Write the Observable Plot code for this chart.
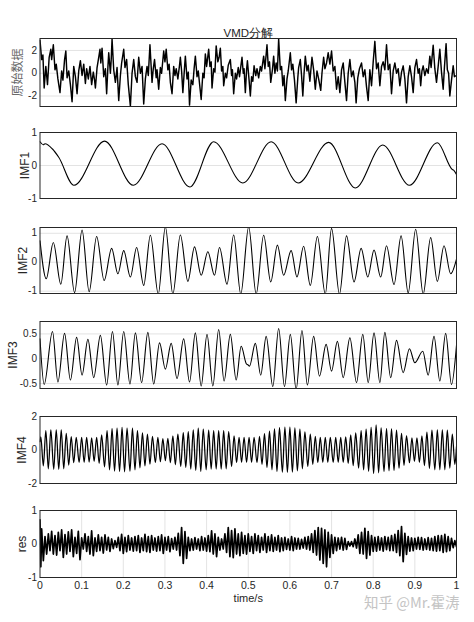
<!DOCTYPE html>
<html><head><meta charset="utf-8">
<script src="https://cdn.jsdelivr.net/npm/d3@7"></script>
<script src="https://cdn.jsdelivr.net/npm/@observablehq/plot@0.6"></script>
<style>
body{margin:0;background:#fff;}
#c{position:relative;width:474px;height:622px;overflow:hidden;font-family:"Liberation Sans",Arial,sans-serif;}
#c svg{position:absolute;left:0;}
#wm{position:absolute;left:364px;top:591px;font-size:14.5px;color:#c4c4c4;font-family:"Noto Sans CJK SC","Liberation Sans",sans-serif;white-space:nowrap;}
</style></head>
<body><div id="c"><div id="wm">知乎 @Mr.霍涛</div></div>
<script>
// ---- data (time in s, value) ----
const title = "VMD分解";
const panelLabels = ["原始数据", "IMF1", "IMF2", "IMF3", "IMF4", "res"];
const xTicks = [0, 0.1, 0.2, 0.3, 0.4, 0.5, 0.6, 0.7, 0.8, 0.9, 1];
const xLabel = "time/s";

const original = [[0,2.9],[0.004,1.2],[0.007,1.6],[0.010,-1.3],[0.014,0.6],[0.018,-1.0],[0.022,1.4],[0.026,2.1],[0.028,1.2],[0.032,2.5],[0.036,0.3],[0.039,0.8],[0.043,-0.5],[0.048,-1.7],[0.052,0.2],[0.055,-0.6],[0.059,1.2],[0.062,1.95],[0.065,-0.4],[0.069,0.2],[0.073,-1.0],[0.077,-2.5],[0.081,0.6],[0.085,-0.3],[0.089,-1.8],[0.093,0.2],[0.097,1.1],[0.101,-0.2],[0.105,0.8],[0.109,-0.9],[0.112,0.4],[0.116,-0.5],[0.120,0.6],[0.124,-1.0],[0.128,0.1],[0.131,-0.6],[0.133,-1.3],[0.137,0.5],[0.141,1.4],[0.144,2.1],[0.146,0.9],[0.149,2.2],[0.153,-0.3],[0.157,0.4],[0.160,-1.8],[0.163,0.5],[0.165,1.8],[0.169,0.0],[0.171,1.2],[0.173,3.0],[0.177,0.3],[0.181,-0.8],[0.185,0.5],[0.189,-2.4],[0.193,-0.2],[0.196,0.9],[0.201,2.1],[0.204,0.5],[0.208,1.2],[0.212,-1.0],[0.217,-2.9],[0.221,0.0],[0.225,1.2],[0.229,-0.3],[0.233,-0.8],[0.237,1.4],[0.241,0.0],[0.245,0.6],[0.249,-2.7],[0.253,-0.5],[0.257,0.6],[0.260,-0.2],[0.264,2.5],[0.267,0.5],[0.269,-0.8],[0.272,0.4],[0.275,1.2],[0.279,-0.4],[0.281,0.3],[0.285,-1.4],[0.289,0.5],[0.292,0.0],[0.297,1.95],[0.300,1.0],[0.303,2.1],[0.307,0.3],[0.310,0.8],[0.313,-0.8],[0.317,-1.8],[0.321,0.6],[0.324,-0.2],[0.327,0.4],[0.331,-0.5],[0.335,0.7],[0.337,1.4],[0.340,0.2],[0.343,-1.7],[0.347,0.5],[0.349,1.5],[0.353,-0.5],[0.356,0.1],[0.359,-2.8],[0.363,-0.6],[0.367,-1.0],[0.370,0.4],[0.373,1.5],[0.377,-0.3],[0.380,0.2],[0.383,-0.9],[0.387,-2.3],[0.391,0.0],[0.394,-0.4],[0.397,1.7],[0.400,0.6],[0.405,2.1],[0.408,0.6],[0.411,1.0],[0.413,-1.3],[0.417,0.4],[0.420,0.1],[0.423,2.4],[0.427,1.0],[0.430,1.4],[0.433,2.2],[0.436,0.2],[0.439,0.6],[0.441,-1.1],[0.445,0.0],[0.448,-0.4],[0.452,0.7],[0.457,1.2],[0.460,-0.2],[0.462,0.3],[0.465,-1.8],[0.469,0.0],[0.472,-0.5],[0.476,0.5],[0.479,-0.3],[0.485,1.4],[0.488,0.0],[0.490,0.4],[0.493,-1.7],[0.496,0.3],[0.498,1.1],[0.502,-0.6],[0.505,-2.0],[0.508,-0.3],[0.511,-0.7],[0.514,0.65],[0.518,-0.2],[0.521,0.4],[0.525,-0.4],[0.529,0.6],[0.532,0.2],[0.537,1.5],[0.540,0.4],[0.545,2.5],[0.548,0.6],[0.551,1.0],[0.554,-0.8],[0.558,0.3],[0.561,1.5],[0.564,0.0],[0.567,0.9],[0.570,0.2],[0.573,3.0],[0.577,0.3],[0.580,0.6],[0.583,-1.1],[0.586,-0.2],[0.589,-2.4],[0.593,-0.5],[0.596,0.2],[0.601,1.8],[0.604,0.3],[0.607,0.8],[0.611,-0.6],[0.615,-2.6],[0.619,-0.4],[0.621,0.5],[0.625,1.2],[0.628,-0.2],[0.631,-2.0],[0.634,0.0],[0.637,1.5],[0.641,0.2],[0.644,0.7],[0.648,-0.7],[0.653,1.4],[0.657,0.3],[0.661,-1.4],[0.665,0.2],[0.669,-0.5],[0.674,-1.5],[0.677,0.0],[0.681,1.4],[0.684,0.4],[0.688,0.9],[0.692,1.8],[0.696,0.8],[0.700,1.95],[0.704,0.2],[0.708,0.6],[0.712,-1.4],[0.716,-0.3],[0.720,-1.7],[0.724,0.3],[0.728,0.9],[0.732,-0.8],[0.736,-2.4],[0.740,0.0],[0.744,1.2],[0.748,-0.3],[0.752,0.2],[0.756,-0.8],[0.759,-2.6],[0.763,-0.4],[0.767,0.4],[0.772,0.9],[0.776,-0.3],[0.780,0.3],[0.784,-1.2],[0.788,-2.4],[0.792,0.3],[0.796,-1.1],[0.800,1.0],[0.804,2.8],[0.808,0.4],[0.812,0.9],[0.816,-1.1],[0.820,0.6],[0.824,1.0],[0.828,0.3],[0.832,2.5],[0.836,0.3],[0.840,0.8],[0.844,-1.8],[0.848,0.2],[0.852,0.9],[0.856,0.0],[0.860,0.4],[0.864,-1.1],[0.868,0.1],[0.872,0.65],[0.876,-0.5],[0.880,-2.6],[0.884,-0.3],[0.888,0.65],[0.892,-0.3],[0.896,-1.7],[0.900,0.5],[0.904,1.2],[0.908,0.0],[0.911,0.4],[0.914,-1.1],[0.917,0.2],[0.920,0.65],[0.924,-0.2],[0.928,0.4],[0.932,0.0],[0.936,1.5],[0.939,0.5],[0.944,2.45],[0.948,0.4],[0.952,-0.8],[0.956,0.6],[0.960,2.1],[0.964,0.1],[0.968,-1.4],[0.971,0.5],[0.975,2.6],[0.978,0.3],[0.981,0.0],[0.984,-2.0],[0.988,-0.6],[0.992,0.65],[0.995,-0.3],[1.0,-0.2]];

const imf1 = [[0,0.72],[0.008,0.63],[0.012,0.66],[0.03,0.5],[0.045,0.25],[0.0815,-0.6],[0.155,0.74],[0.224,-0.6],[0.293,0.66],[0.36,-0.65],[0.417,0.72],[0.487,-0.53],[0.555,0.72],[0.62,-0.53],[0.693,0.70],[0.757,-0.68],[0.823,0.62],[0.887,-0.6],[0.954,0.69],[0.99,-0.12],[0.993,-0.14],[1.0,-0.27]];

const imf2 = [[0,0.74],[0.015,-0.57],[0.032,0.68],[0.050,-0.76],[0.065,0.91],[0.083,-1.05],[0.101,1.11],[0.118,-1.02],[0.136,0.89],[0.154,-0.63],[0.172,0.48],[0.187,-0.40],[0.201,0.40],[0.217,-0.51],[0.232,0.51],[0.249,-0.80],[0.265,0.93],[0.284,-1.1],[0.301,1.22],[0.319,-1.1],[0.337,0.94],[0.355,-0.66],[0.371,0.53],[0.387,-0.45],[0.403,0.36],[0.419,-0.45],[0.431,0.51],[0.449,-0.76],[0.465,0.94],[0.482,-1.1],[0.501,1.22],[0.519,-1.1],[0.537,0.93],[0.554,-0.68],[0.570,0.59],[0.585,-0.45],[0.603,0.40],[0.617,-0.51],[0.633,0.55],[0.649,-0.80],[0.666,0.89],[0.685,-1.1],[0.700,1.17],[0.719,-1.1],[0.736,0.91],[0.754,-0.68],[0.771,0.48],[0.787,-0.51],[0.802,0.42],[0.818,-0.51],[0.832,0.57],[0.850,-0.77],[0.867,0.91],[0.884,-1.06],[0.902,1.14],[0.920,-1.1],[0.938,0.85],[0.954,-0.66],[0.970,0.57],[0.986,-0.40],[1.0,0.11]];

const imf3 = [[0,0.40],[0.010,-0.52],[0.030,0.55],[0.043,-0.47],[0.059,0.51],[0.073,-0.43],[0.088,0.43],[0.101,-0.33],[0.115,0.39],[0.129,-0.38],[0.145,0.47],[0.160,-0.53],[0.174,0.55],[0.187,-0.53],[0.201,0.55],[0.216,-0.51],[0.229,0.52],[0.244,-0.48],[0.259,0.53],[0.273,-0.51],[0.287,0.32],[0.301,-0.21],[0.315,0.31],[0.329,-0.40],[0.345,0.40],[0.359,-0.47],[0.373,0.52],[0.387,-0.55],[0.401,0.49],[0.415,-0.55],[0.429,0.59],[0.442,-0.45],[0.457,0.49],[0.471,-0.43],[0.483,0.25],[0.496,-0.11],[0.499,-0.12],[0.503,-0.15],[0.517,0.31],[0.530,-0.33],[0.543,0.45],[0.559,-0.56],[0.573,0.61],[0.587,-0.56],[0.601,0.49],[0.615,-0.62],[0.629,0.57],[0.642,-0.53],[0.657,0.45],[0.671,-0.35],[0.687,0.29],[0.700,-0.25],[0.714,0.35],[0.728,-0.38],[0.744,0.42],[0.760,-0.48],[0.775,0.49],[0.788,-0.48],[0.802,0.52],[0.816,-0.48],[0.828,0.53],[0.842,-0.38],[0.856,0.37],[0.872,-0.28],[0.887,0.20],[0.900,-0.08],[0.919,0.15],[0.932,-0.33],[0.946,0.45],[0.960,-0.45],[0.974,0.51],[0.988,-0.52],[1.0,0.27]];

const imf4 = [[0,0.5],[0.002,0.78],[0.008,-0.95],[0.014,1.16],[0.020,-1.12],[0.026,1.2],[0.033,-1.15],[0.039,1.2],[0.045,-1.15],[0.051,1.2],[0.057,-1.12],[0.063,1.0],[0.069,-0.9],[0.075,0.8],[0.081,-0.76],[0.087,0.76],[0.094,-0.74],[0.100,0.76],[0.106,-0.74],[0.112,0.76],[0.118,-0.72],[0.124,0.72],[0.130,-0.68],[0.136,0.76],[0.142,-0.8],[0.148,0.9],[0.155,-1.0],[0.161,1.16],[0.167,-1.18],[0.173,1.28],[0.179,-1.26],[0.185,1.3],[0.191,-1.28],[0.197,1.35],[0.203,-1.3],[0.209,1.3],[0.216,-1.26],[0.222,1.3],[0.228,-1.18],[0.234,1.16],[0.240,-1.06],[0.246,1.02],[0.252,-0.95],[0.258,0.95],[0.264,-0.85],[0.270,0.82],[0.277,-0.76],[0.283,0.76],[0.289,-0.7],[0.295,0.68],[0.301,-0.64],[0.307,0.7],[0.313,-0.76],[0.319,0.85],[0.325,-0.88],[0.331,0.95],[0.338,-0.98],[0.344,1.03],[0.350,-1.04],[0.356,1.1],[0.362,-1.14],[0.368,1.2],[0.374,-1.22],[0.380,1.3],[0.386,-1.28],[0.392,1.25],[0.399,-1.18],[0.405,1.18],[0.411,-1.14],[0.417,1.16],[0.423,-1.14],[0.429,1.16],[0.435,-1.14],[0.441,1.15],[0.447,-1.12],[0.453,1.1],[0.460,-0.98],[0.466,0.85],[0.472,-0.76],[0.478,0.76],[0.484,-0.74],[0.490,0.76],[0.496,-0.74],[0.502,0.76],[0.508,-0.74],[0.514,0.76],[0.521,-0.76],[0.527,0.82],[0.533,-0.86],[0.539,0.98],[0.545,-1.04],[0.551,1.12],[0.557,-1.18],[0.563,1.26],[0.569,-1.28],[0.575,1.33],[0.582,-1.32],[0.588,1.36],[0.594,-1.33],[0.600,1.36],[0.606,-1.32],[0.612,1.32],[0.618,-1.25],[0.624,1.24],[0.630,-1.12],[0.636,1.08],[0.643,-0.98],[0.649,0.95],[0.655,-0.86],[0.661,0.82],[0.667,-0.76],[0.673,0.76],[0.679,-0.74],[0.685,0.76],[0.691,-0.74],[0.697,0.76],[0.704,-0.74],[0.710,0.76],[0.716,-0.74],[0.722,0.76],[0.728,-0.74],[0.734,0.78],[0.740,-0.8],[0.746,0.9],[0.752,-0.94],[0.758,1.02],[0.765,-1.08],[0.771,1.16],[0.777,-1.18],[0.783,1.25],[0.789,-1.27],[0.795,1.35],[0.801,-1.4],[0.807,1.5],[0.813,-1.36],[0.819,1.32],[0.826,-1.28],[0.832,1.28],[0.838,-1.24],[0.844,1.26],[0.850,-1.22],[0.856,1.18],[0.862,-1.08],[0.868,1.0],[0.874,-0.92],[0.880,0.86],[0.887,-0.76],[0.893,0.72],[0.899,-0.68],[0.905,0.72],[0.911,-0.74],[0.917,0.85],[0.923,-0.93],[0.929,1.06],[0.935,-1.1],[0.941,1.18],[0.948,-1.18],[0.954,1.2],[0.960,-1.18],[0.966,1.2],[0.972,-1.18],[0.978,1.18],[0.984,-1.08],[0.990,0.95],[0.996,-0.86],[1.0,0.2]];

const res = [[0,0.72],[0.002,-0.68],[0.004,0.45],[0.008,-0.5],[0.012,0.22],[0.016,-0.3],[0.020,0.3],[0.024,-0.2],[0.028,0.38],[0.032,-0.3],[0.036,0.25],[0.040,-0.33],[0.044,0.35],[0.048,-0.2],[0.052,0.42],[0.056,-0.4],[0.060,0.28],[0.064,-0.3],[0.068,0.36],[0.072,-0.22],[0.076,0.42],[0.080,-0.38],[0.084,0.2],[0.088,-0.28],[0.092,0.38],[0.096,-0.47],[0.100,0.18],[0.104,-0.15],[0.108,0.3],[0.112,-0.22],[0.116,0.22],[0.120,-0.3],[0.124,0.39],[0.128,-0.35],[0.132,0.18],[0.136,-0.22],[0.140,0.27],[0.144,-0.2],[0.148,0.2],[0.152,-0.27],[0.156,0.27],[0.160,-0.18],[0.164,0.2],[0.168,-0.22],[0.172,0.15],[0.176,-0.14],[0.180,0.1],[0.184,-0.1],[0.188,0.2],[0.192,-0.2],[0.196,0.29],[0.200,-0.28],[0.204,0.2],[0.208,-0.23],[0.212,0.25],[0.216,-0.18],[0.220,0.18],[0.224,-0.21],[0.228,0.22],[0.232,-0.2],[0.236,0.25],[0.240,-0.25],[0.244,0.18],[0.248,-0.2],[0.252,0.29],[0.256,-0.23],[0.260,0.22],[0.264,-0.25],[0.268,0.25],[0.272,-0.18],[0.276,0.18],[0.280,-0.21],[0.284,0.22],[0.288,-0.2],[0.292,0.27],[0.296,-0.28],[0.300,0.2],[0.304,-0.18],[0.308,0.22],[0.312,-0.23],[0.316,0.16],[0.320,-0.15],[0.324,0.2],[0.328,-0.18],[0.332,0.32],[0.336,-0.35],[0.340,0.49],[0.344,-0.58],[0.348,0.37],[0.352,-0.43],[0.356,0.2],[0.360,-0.2],[0.364,0.15],[0.368,-0.18],[0.372,0.19],[0.376,-0.15],[0.380,0.15],[0.384,-0.2],[0.388,0.22],[0.392,-0.18],[0.396,0.18],[0.400,-0.21],[0.404,0.25],[0.408,-0.23],[0.412,0.39],[0.416,-0.3],[0.420,0.3],[0.424,-0.38],[0.428,0.2],[0.432,-0.18],[0.436,0.15],[0.440,-0.15],[0.444,0.3],[0.448,-0.25],[0.452,0.49],[0.456,-0.38],[0.460,0.4],[0.464,-0.41],[0.468,0.45],[0.472,-0.3],[0.476,0.3],[0.480,-0.35],[0.484,0.35],[0.488,-0.28],[0.492,0.25],[0.496,-0.3],[0.500,0.3],[0.504,-0.22],[0.508,0.22],[0.512,-0.28],[0.516,0.3],[0.520,-0.2],[0.524,0.25],[0.528,-0.25],[0.532,0.2],[0.536,-0.18],[0.540,0.3],[0.544,-0.25],[0.548,0.22],[0.552,-0.2],[0.556,0.27],[0.560,-0.22],[0.564,0.2],[0.568,-0.18],[0.572,0.25],[0.576,-0.23],[0.580,0.18],[0.584,-0.2],[0.588,0.2],[0.592,-0.16],[0.596,0.15],[0.600,-0.18],[0.604,0.22],[0.608,-0.2],[0.612,0.18],[0.616,-0.15],[0.620,0.17],[0.624,-0.15],[0.628,0.14],[0.632,-0.12],[0.636,0.2],[0.640,-0.15],[0.644,0.22],[0.648,-0.18],[0.652,0.3],[0.656,-0.25],[0.660,0.4],[0.664,-0.33],[0.668,0.49],[0.672,-0.48],[0.676,0.47],[0.680,-0.58],[0.684,0.42],[0.688,-0.68],[0.692,0.35],[0.696,-0.4],[0.700,0.27],[0.704,-0.28],[0.708,0.2],[0.712,-0.2],[0.716,0.18],[0.720,-0.15],[0.724,0.2],[0.728,-0.18],[0.732,0.17],[0.736,-0.16],[0.740,0.07],[0.744,-0.06],[0.748,0.07],[0.752,-0.08],[0.756,0.15],[0.760,-0.12],[0.764,0.27],[0.768,-0.28],[0.772,0.35],[0.776,-0.3],[0.780,0.47],[0.784,-0.43],[0.788,0.37],[0.792,-0.33],[0.796,0.25],[0.800,-0.22],[0.804,0.2],[0.808,-0.21],[0.812,0.22],[0.816,-0.18],[0.820,0.18],[0.824,-0.21],[0.828,0.22],[0.832,-0.17],[0.836,0.2],[0.840,-0.2],[0.844,0.25],[0.848,-0.2],[0.852,0.29],[0.856,-0.25],[0.860,0.4],[0.864,-0.35],[0.868,0.52],[0.872,-0.53],[0.876,0.32],[0.880,-0.31],[0.884,0.22],[0.888,-0.21],[0.892,0.18],[0.896,-0.2],[0.900,0.17],[0.904,-0.15],[0.908,0.2],[0.912,-0.16],[0.916,0.19],[0.920,-0.18],[0.924,0.15],[0.928,-0.16],[0.932,0.19],[0.936,-0.18],[0.940,0.17],[0.944,-0.2],[0.948,0.22],[0.952,-0.21],[0.956,0.25],[0.960,-0.2],[0.964,0.25],[0.968,-0.25],[0.972,0.29],[0.976,-0.23],[0.980,0.22],[0.984,-0.2],[0.988,0.17],[0.992,-0.11],[0.996,0.1],[1.0,-0.08]];

// ---- layout ----
const W = 474, ML = 39.5, MR = 18;
const container = document.getElementById("c");
const font = "'Liberation Sans', Arial, sans-serif";

function panel({svgTop, frameH, mt, mb, yDomain, yTicks, label, labelDx, labelFont, labelFill, lineMarks, xAxis, gridX, extra}) {
  const marks = [];
  if (gridX) marks.push(Plot.ruleX(xTicks.slice(1, -1), {stroke: "#dcdcdc", strokeWidth: 0.8}));
  marks.push(Plot.ruleY(yTicks, {stroke: "#dcdcdc", strokeWidth: 0.8}));
  marks.push(...lineMarks);
  marks.push(Plot.frame({stroke: "#262626", strokeWidth: 1}));
  marks.push(Plot.axisY(yTicks, {tickSize: 0, tickPadding: 3, tickFormat: d => String(d), label: null, fill: "#262626", fontSize: 10}));
  if (xAxis) {
    marks.push(Plot.axisX(xTicks, {tickSize: 0, tickPadding: 4, tickFormat: d => String(d), label: null, fill: "#262626", fontSize: 10.5}));
    marks.push(Plot.text([xLabel], {frameAnchor: "bottom", dy: 24, fontSize: 11, fill: "#262626"}));
  }
  marks.push(Plot.text([label], {frameAnchor: "left", textAnchor: "middle", dx: labelDx, rotate: -90, fontSize: 12, fill: labelFill || "#262626", fontFamily: labelFont || font}));
  if (extra) marks.push(...extra);
  const svg = Plot.plot({
    width: W, height: mt + frameH + mb,
    marginLeft: ML, marginRight: MR, marginTop: mt, marginBottom: mb,
    x: {domain: [0, 1], axis: null},
    y: {domain: yDomain, axis: null},
    style: {background: "transparent", fontFamily: font, fontSize: "10px", color: "#262626", overflow: "visible"},
    marks
  });
  svg.style.top = svgTop + "px";
  container.appendChild(svg);
}

const lineOf = (data, curve, sw) => Plot.line(data, {x: d => d[0], y: d => d[1], curve, stroke: "#000", strokeWidth: sw, clip: true});

panel({svgTop: 8, frameH: 68, mt: 30, mb: 2, yDomain: [-2.92, 3.05], yTicks: [-2, 0, 2],
  label: panelLabels[0], labelDx: -22, labelFont: "'Noto Sans CJK SC', sans-serif", labelFill: "#6a6a6a",
  lineMarks: [lineOf(original, "linear", 1.45)],
  extra: [Plot.text([title], {frameAnchor: "top", dy: -10, fontSize: 11.5, fill: "#262626"})]});

panel({svgTop: 130, frameH: 66, mt: 2, mb: 2, yDomain: [-1, 1], yTicks: [-1, 0, 1],
  label: panelLabels[1], labelDx: -14.5,
  lineMarks: [lineOf(imf1, "monotone-x", 1.1)]});

panel({svgTop: 225, frameH: 66, mt: 2, mb: 2, yDomain: [-1.08, 1.2], yTicks: [-1, 0, 1],
  label: panelLabels[2], labelDx: -17,
  lineMarks: [lineOf(imf2, "monotone-x", 1.1)]});

panel({svgTop: 319, frameH: 67, mt: 2, mb: 2, yDomain: [-0.6, 0.75], yTicks: [-0.5, 0, 0.5],
  label: panelLabels[3], labelDx: -27,
  lineMarks: [lineOf(imf3, "monotone-x", 1.1)]});

panel({svgTop: 414, frameH: 67, mt: 2, mb: 2, yDomain: [-2, 2], yTicks: [-2, 0, 2],
  label: panelLabels[4], labelDx: -17.5,
  lineMarks: [lineOf(imf4, "monotone-x", 1.25)]});

panel({svgTop: 508, frameH: 67, mt: 2, mb: 40, yDomain: [-1, 1], yTicks: [-1, 0, 1],
  label: panelLabels[5], labelDx: -17.8, xAxis: true, gridX: true,
  lineMarks: [lineOf(res, "linear", 1.7)]});
</script>
</body></html>
